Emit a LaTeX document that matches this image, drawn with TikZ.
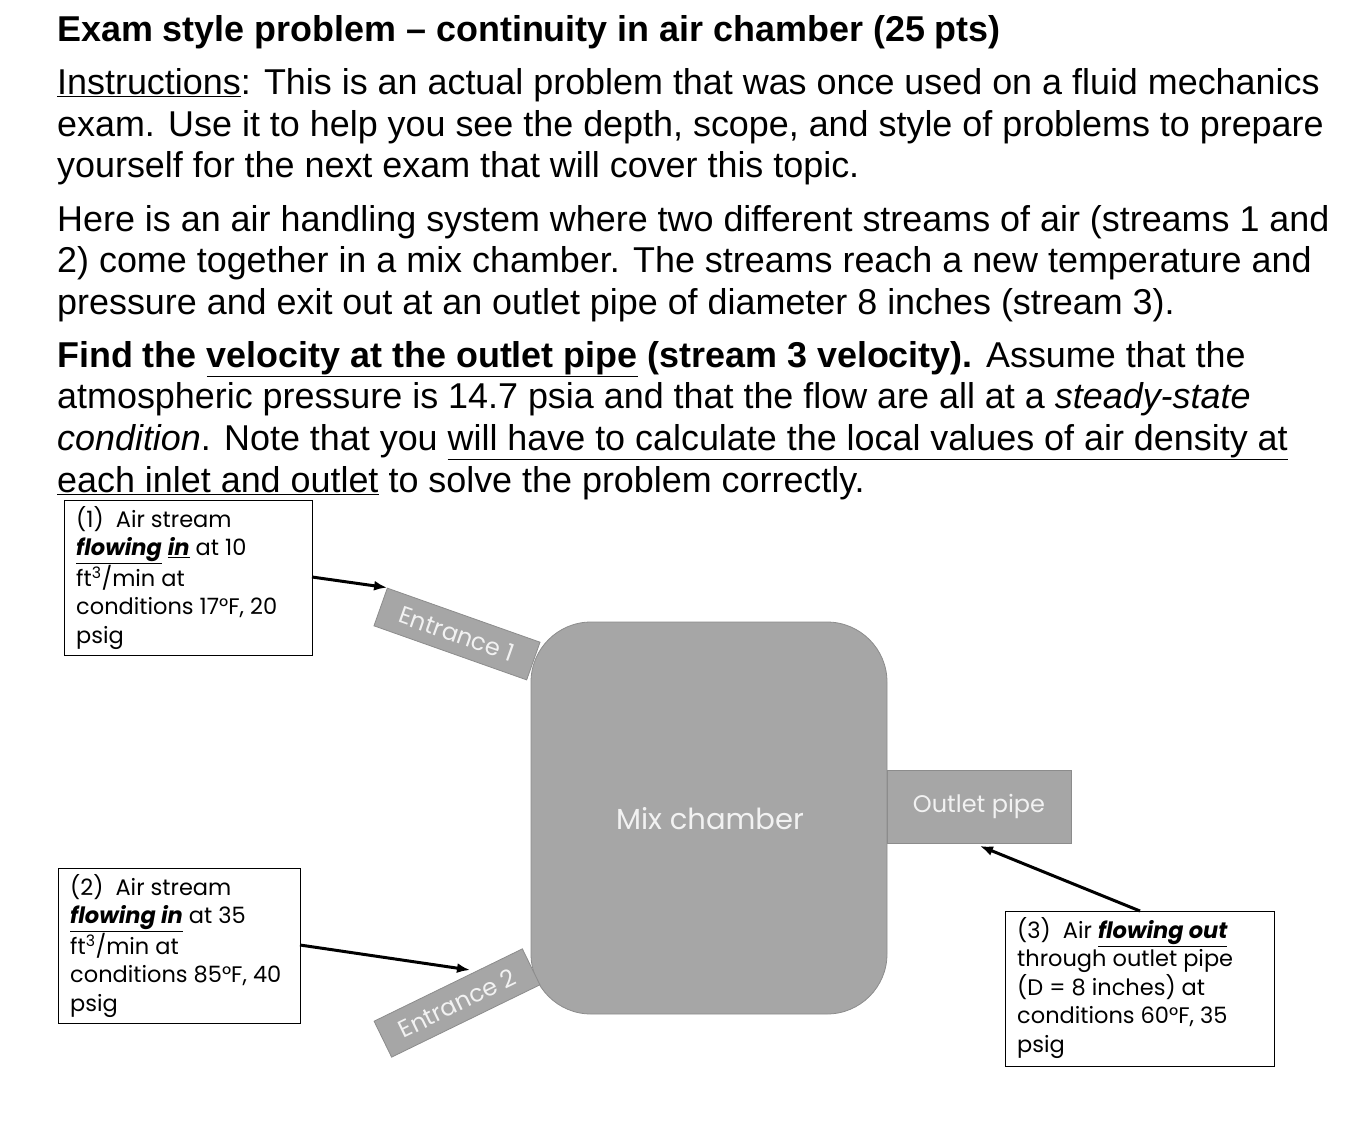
\documentclass[tikz,border=0pt]{standalone}
\usepackage{fontspec}
\usetikzlibrary{arrows.meta}
\setmainfont{Liberation Sans}
\newfontfamily\boxfont{Poppins}
\begin{document}
\begin{tikzpicture}[x=1pt,y=-1pt,
  body/.style={anchor=base west,inner sep=0pt,font=\fontsize{35.9}{40}\selectfont},
  frame/.style={draw=black,line width=1pt,fill=white,inner sep=0pt,anchor=north west},
  info/.style={anchor=north west,align=left,inner sep=0pt,font=\boxfont\fontsize{22.5}{28.5}\selectfont},
  pipe/.style={fill=black!35,draw=black!45,line width=0.8pt,inner sep=0pt,font=\boxfont\fontsize{24}{28}\selectfont,text=black!5},
  arr/.style={-{Latex[length=13pt,width=10pt]},line width=3pt}]
\useasboundingbox (0,0) rectangle (1361,1136);
\node[body,font=\bfseries\fontsize{35.9}{40}\selectfont] (t) at (57,41) {Exam style problem -- continuity in air chamber (25 pts)};
\node[body] (l1) at (57,94) {\underline{Instructions}: This is an actual problem that was once used on a fluid mechanics};
\node[body] (l2) at (57,136) {exam. Use it to help you see the depth, scope, and style of problems to prepare};
\node[body] (l3) at (57,177) {yourself for the next exam that will cover this topic.};
\node[body] (l4) at (57,231) {Here is an air handling system where two different streams of air (streams 1 and};
\node[body] (l5) at (57,272) {2) come together in a mix chamber. The streams reach a new temperature and};
\node[body] (l6) at (57,314) {pressure and exit out at an outlet pipe of diameter 8 inches (stream 3).};
\node[body] (l7) at (57,367) {\textbf{Find the \underline{velocity at the outlet pipe} (stream 3 velocity).} Assume that the};
\node[body] (l8) at (57,408) {atmospheric pressure is 14.7 psia and that the flow are all at a \textit{steady-state}};
\node[body] (l9) at (57,450) {\textit{condition}. Note that you \underline{will have to calculate the local values of air density at}};
\node[body] (l10) at (57,492) {\underline{each inlet and outlet} to solve the problem correctly.};

\draw[fill=black!35,draw=black!45,line width=0.8pt,rounded corners=60pt] (531,622) rectangle (887,1014);
\node[font=\boxfont\fontsize{29}{32}\selectfont,text=black!5] (mix) at (710,819) {Mix chamber};
\node[pipe,minimum width=184pt,minimum height=73pt] (out) at (979,806.5) {\raisebox{4pt}{Outlet pipe}};
\node[pipe,minimum width=162pt,minimum height=40pt,rotate=-19.5] (e1) at (457,634) {Entrance 1};
\node[pipe,minimum width=165pt,minimum height=40pt,rotate=26] (e2) at (457,1003) {Entrance 2};

\node[frame,minimum width=248pt,minimum height=155pt] (f1) at (64,500) {};
\node[info] (b1) at (76,506) {(1)\ \ Air stream\\ \textbf{\textit{\underline{flowing}}} \textbf{\textit{\underline{in}}} at 10\\ ft\textsuperscript{3}/min at\\ conditions 17°F, 20\\ psig};
\node[frame,minimum width=242pt,minimum height=155pt] (f2) at (58,868) {};
\node[info] (b2) at (70,874) {(2)\ \ Air stream\\ \textbf{\textit{\underline{flowing in}}} at 35\\ ft\textsuperscript{3}/min at\\ conditions 85°F, 40\\ psig};
\node[frame,minimum width=269pt,minimum height=155pt] (f3) at (1005,911) {};
\node[info] (b3) at (1017,917) {(3)\ \ Air \textbf{\textit{\underline{flowing out}}}\\ through outlet pipe\\ (D = 8 inches) at\\ conditions 60°F, 35\\ psig};

\coordinate (a1s) at (312,577);
\coordinate (a2s) at (300,945);
\coordinate (a2e) at (470,970);
\coordinate (a3s) at (1140,911);
\coordinate (a3e) at (980,846);
\draw[arr] (a1s) -- (e1.north west);
\draw[arr] (a2s) -- (a2e);
\draw[arr] (a3s) -- (a3e);
\end{tikzpicture}
\end{document}
